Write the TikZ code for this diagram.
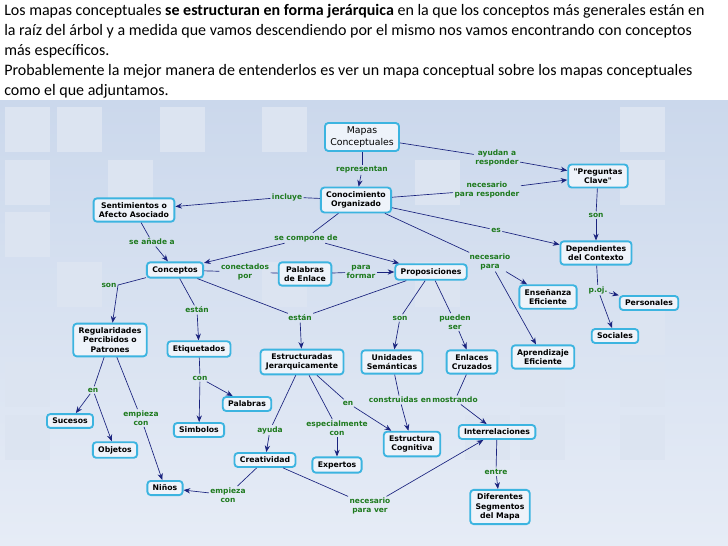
\documentclass[tikz,border=0pt]{standalone}
\usepackage{fontspec}
\setmainfont{Carlito}
\newfontfamily\djvs{DejaVu Sans}
\usetikzlibrary{arrows.meta}
\definecolor{bgA}{HTML}{CBD8EC}
\definecolor{bgB}{HTML}{E6ECF6}
\definecolor{sq}{HTML}{DCE4F1}
\definecolor{bord}{HTML}{3CB4E0}
\definecolor{boxf}{HTML}{EEF3FA}
\definecolor{lab}{HTML}{1E7A1E}
\definecolor{ln}{HTML}{1A237E}
\tikzset{
 box/.style={draw=bord,line width=1.4pt,rounded corners=2.5pt,fill=boxf,align=center,
   font=\djvs\bfseries\fontsize{5.8}{7}\selectfont,inner xsep=4pt,inner ysep=3pt,text=black},
 lbl/.style={text=lab,align=center,font=\djvs\bfseries\fontsize{5.6}{6.6}\selectfont,inner sep=1pt},
 cl/.style={draw=ln,line width=0.5pt},
 ca/.style={draw=ln,line width=0.5pt,-{Stealth[length=5pt,width=4pt]}},
}
\newcommand{\lnk}[3]{\draw[cl] (#1) -- (#2); \draw[ca] (#2) -- (#3);}
\begin{document}
\begin{tikzpicture}[x=0.75pt,y=-0.75pt]
\useasboundingbox (0,0) rectangle (728,546);
\fill[white] (0,0) rectangle (728,546);
\shade[top color=bgA,bottom color=bgB] (0,100) rectangle (728,546);
\foreach \x/\y in {5/107,57/107,160/107,262/107,5/160,108/160,5/212,57/262,262/262,415/160,415/262,620/107,620/160,5/362,5/415,620/362,620/415,465/415,520/362,520/415,620/310}
  \fill[sq] (\x,\y) rectangle ++(45,45);
\node[anchor=north west,align=left,inner sep=0pt,font=\fontsize{12}{15}\selectfont] at (4,4)
{Los mapas conceptuales \textbf{se estructuran en forma jerárquica} en la que los conceptos más generales están en\\
la raíz del árbol y a medida que vamos descendiendo por el mismo nos vamos encontrando con conceptos\\
más específicos.\\
Probablemente la mejor manera de entenderlos es ver un mapa conceptual sobre los mapas conceptuales\\
como el que adjuntamos.};
% boxes
\node[box,font=\djvs\fontsize{7}{8.4}\selectfont] (mc) at (362,137) {Mapas\\Conceptuales};
\node[box] (co) at (356,200) {Conocimiento\\Organizado};
\node[box] (sent) at (134,210) {Sentimientos o\\Afecto Asociado};
\node[box] (conc) at (175,270) {Conceptos};
\node[box] (pe) at (305,274) {Palabras\\de Enlace};
\node[box] (prop) at (431,272) {Proposiciones};
\node[box] (pc) at (598,176) {"Preguntas\\Clave"};
\node[box] (dep) at (596,253) {Dependientes\\del Contexto};
\node[box] (ens) at (548,297) {Enseñanza\\Eficiente};
\node[box] (pers) at (649,303) {Personales};
\node[box] (soc) at (615,336) {Sociales};
\node[box] (apr) at (543,357) {Aprendizaje\\Eficiente};
\node[box] (us) at (392,362) {Unidades\\Semánticas};
\node[box] (ec) at (472,362) {Enlaces\\Cruzados};
\node[box] (estc) at (412,444) {Estructura\\Cognitiva};
\node[box] (inter) at (497,432) {Interrelaciones};
\node[box] (dif) at (500,507) {Diferentes\\Segmentos\\del Mapa};
\node[box] (estr) at (302,362) {Estructuradas\\Jerarquicamente};
\node[box] (crea) at (265,460) {Creatividad};
\node[box] (exp) at (337,465) {Expertos};
\node[box] (nin) at (165,488) {Niños};
\node[box] (etiq) at (199,349) {Etiquetados};
\node[box] (pal) at (247,404) {Palabras};
\node[box] (simb) at (199,430) {Simbolos};
\node[box] (reg) at (110,340) {Regularidades\\Percibidos o\\Patrones};
\node[box] (suc) at (70,421) {Sucesos};
\node[box] (obj) at (115,450) {Objetos};
% labels
\node[lbl] (l1) at (362,170) {representan};
\node[lbl] (l2) at (497,158) {ayudan a\\responder};
\node[lbl] (l3) at (287,197) {incluye};
\node[lbl] (l4) at (487,190) {necesario\\para responder};
\node[lbl] (l5) at (496,230) {es};
\node[lbl] (l6) at (490,262) {necesario\\para};
\node[lbl] (l7) at (306,238) {se compone de};
\node[lbl] (l8) at (152,242) {se añade a};
\node[lbl] (l9) at (245,272) {conectados\\por};
\node[lbl] (l10) at (361,272) {para\\formar};
\node[lbl] (l11) at (109,285) {son};
\node[lbl] (l12) at (197,310) {están};
\node[lbl] (l13) at (300,318) {están};
\node[lbl] (l14) at (400,318) {son};
\node[lbl] (l15) at (455,322) {pueden\\ser};
\node[lbl] (l16) at (596,215) {son};
\node[lbl] (l17) at (598,290) {p.oj.};
\node[lbl] (l18) at (400,400) {construidas en};
\node[lbl] (l19) at (348,403) {en};
\node[lbl] (l20) at (455,400) {mostrando};
\node[lbl] (l21) at (496,472) {entre};
\node[lbl] (l22) at (270,430) {ayuda};
\node[lbl] (l23) at (337,428) {especialmente\\con};
\node[lbl] (l24) at (228,495) {empieza\\con};
\node[lbl] (l25) at (370,506) {necesario\\para ver};
\node[lbl] (l26) at (200,378) {con};
\node[lbl] (l27) at (93,390) {en};
\node[lbl] (l28) at (141,418) {empieza\\con};
% connectors
\lnk{mc}{l1}{co}
\lnk{mc}{l2}{pc}
\lnk{co}{l3}{sent}
\lnk{co}{l4}{pc}
\lnk{co}{l5}{dep}
\lnk{co}{l6}{ens}
\draw[ca] (l6) -- (apr);
\lnk{co}{l7}{conc}
\draw[ca] (l7) -- (prop);
\lnk{sent}{l8}{conc}
\draw[cl] (conc) -- (l9); \draw[cl] (l9) -- (pe);
\lnk{pe}{l10}{prop}
\lnk{conc}{l11.east}{reg}
\lnk{conc}{l12}{etiq}
\lnk{conc}{l13}{estr}
\draw[cl] (prop) -- (l13);
\lnk{prop}{l14}{us}
\lnk{prop}{l15}{ec}
\lnk{pc}{l16}{dep}
\lnk{dep}{l17}{pers}
\draw[ca] (l17) -- (soc);
\lnk{us}{l18}{estc}
\lnk{estr}{l19}{estc}
\lnk{ec}{l20}{inter}
\lnk{inter}{l21}{dif}
\lnk{estr}{l22}{crea}
\lnk{estr}{l23}{exp}
\lnk{crea}{l24}{nin}
\lnk{crea}{l25}{inter}
\lnk{etiq}{l26}{pal}
\draw[ca] (l26) -- (simb);
\lnk{reg}{l27}{suc}
\draw[ca] (l27) -- (obj);
\lnk{reg}{l28}{nin}
\end{tikzpicture}
\end{document}
